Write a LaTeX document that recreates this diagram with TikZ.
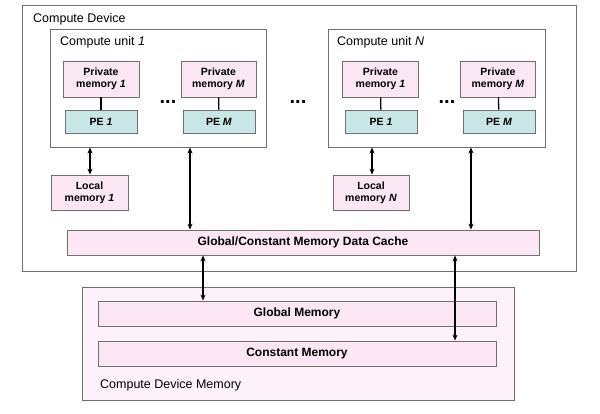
\documentclass[tikz,border=0pt]{standalone}
\usepackage{fontspec}
\setmainfont{Liberation Sans}
\usetikzlibrary{arrows.meta}
\definecolor{pk}{HTML}{FBE6F4}
\definecolor{pe}{HTML}{C9E6E6}
\definecolor{bd}{HTML}{707070}
\begin{document}
\begin{tikzpicture}[x=1pt,y=-1pt,
 box/.style={draw=bd,line width=0.8pt},
 mem/.style={box,fill=pk,font=\bfseries\fontsize{10.5}{12}\selectfont,align=center,inner sep=0pt},
 pe/.style={box,fill=pe,font=\bfseries\fontsize{10.5}{12}\selectfont,inner sep=0pt},
 big/.style={font=\bfseries\fontsize{12}{13}\selectfont},
 lbl/.style={font=\fontsize{12.5}{14}\selectfont,anchor=west,inner sep=0pt},
 arr/.style={{Stealth[length=6pt,width=5pt]}-{Stealth[length=6pt,width=5pt]},line width=1.3pt},
 dots/.style={font=\bfseries\fontsize{20}{20}\selectfont,inner sep=0pt}]
\useasboundingbox (0,0) rectangle (600,413);
\fill[white] (0,0) rectangle (600,413);
\draw[box] (22,5) rectangle (576,271);
\node[lbl] (devl) at (33,19) {Compute Device};
% CU 1
\draw[box] (50,29) rectangle (266,147);
\node[lbl] (cu1l) at (60,42) {Compute unit \textit{1}};
\node[mem,minimum width=76,minimum height=36] (p11) at (101,79) {Private\\memory \textit{1}};
\node[pe,minimum width=72,minimum height=23] (e11) at (101,121.5) {PE \textit{1}};
\node[mem,minimum width=75,minimum height=36] (p1m) at (218.5,79) {Private\\memory \textit{M}};
\node[pe,minimum width=72,minimum height=23] (e1m) at (219,121.5) {PE \textit{M}};
\draw[line width=1.3pt] (p11) -- (e11);
\draw[line width=1.3pt] (p1m) -- (e1m);
\node[dots] (d1) at (168,102) {...};
\node[dots] (d2) at (298,102) {...};
% CU N
\draw[box] (328,29) rectangle (545,147);
\node[lbl] (cunl) at (337,42) {Compute unit \textit{N}};
\node[mem,minimum width=76,minimum height=36] (pn1) at (380.5,79) {Private\\memory \textit{1}};
\node[pe,minimum width=72,minimum height=23] (en1) at (381,121.5) {PE \textit{1}};
\node[mem,minimum width=75,minimum height=36] (pnm) at (498,79) {Private\\memory \textit{M}};
\node[pe,minimum width=72,minimum height=23] (enm) at (499,121.5) {PE \textit{M}};
\draw[line width=1.3pt] (pn1) -- (en1);
\draw[line width=1.3pt] (pnm) -- (enm);
\node[dots] (d3) at (447,102) {...};
% local memories
\node[mem,minimum width=77,minimum height=35] (l1) at (89.5,192.5) {Local\\memory \textit{1}};
\node[mem,minimum width=76,minimum height=35] (ln) at (371,192.5) {Local\\memory \textit{N}};
\coordinate (c1b) at (90,147.5);
\coordinate (cnb) at (372,147.5);
\draw[arr] (c1b) -- (l1.north -| c1b);
\draw[arr] (cnb) -- (ln.north -| cnb);
% cache
\node[mem,big,minimum width=472,minimum height=25] (cache) at (303,242.5) {Global/Constant Memory Data Cache};
\coordinate (a1t) at (190,147.5);
\coordinate (a2t) at (471,147.5);
\draw[arr] (a1t) -- (cache.north -| a1t);
\draw[arr] (a2t) -- (cache.north -| a2t);
% device memory
\draw[box,fill=pk!50] (82,287) rectangle (514,400);
\node[lbl] (dml) at (100,385) {Compute Device Memory};
\node[mem,big,minimum width=398,minimum height=25] (gm) at (297,313.5) {Global Memory};
\node[mem,big,minimum width=398,minimum height=25] (cm) at (297,353.5) {Constant Memory};
\coordinate (g1) at (203,0);
\coordinate (g2) at (455,0);
\draw[arr] (cache.south -| g1) -- (gm.north -| g1);
\draw[arr] (cache.south -| g2) -- (cm.north -| g2);
\end{tikzpicture}
\end{document}
